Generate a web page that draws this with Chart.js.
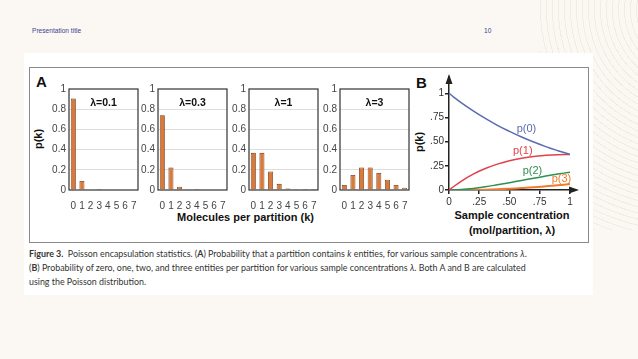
<!DOCTYPE html>
<html>
<head>
<meta charset="utf-8">
<script src="https://cdn.jsdelivr.net/npm/chart.js@4.4.1/dist/chart.umd.min.js"></script>
<style>
body{margin:0;width:638px;height:359px;background:#fbf8f3;position:relative;overflow:hidden;font-family:"Liberation Sans",Arial,sans-serif}
.abs{position:absolute}
#arcs{left:540px;top:0;width:98px;height:230px;background:repeating-radial-gradient(circle at 150px 10px,rgba(255,255,255,0) 0 5px,rgba(225,215,198,0.35) 5px 6px)}
#slideTitle{left:32px;top:27px;font-size:6.6px;color:#3e3f8e}
#pageNo{left:484px;top:27px;font-size:6.6px;color:#3e3f8e}
#sheet{left:24px;top:53px;width:569px;height:242px;background:#fff}
#frame{left:29px;top:67px;width:558px;height:174px;border:1.5px solid #8a8a8a}
.bold{font-weight:bold;color:#111}
.plot{position:absolute}
.cap{position:absolute;left:29px;white-space:nowrap;font-family:Lato,"Open Sans",sans-serif;color:#333}
</style>
</head>
<body>
<div id="arcs" class="abs"></div>
<div id="slideTitle" class="abs">Presentation title</div>
<div id="pageNo" class="abs">10</div>
<div id="sheet" class="abs"></div>
<div id="frame" class="abs"></div>

<div class="abs bold" style="left:36px;top:73px;font-size:15px">A</div>
<div class="abs bold" style="left:416px;top:74px;font-size:15px">B</div>
<div class="abs bold" style="left:28px;top:133px;font-size:11px;transform:rotate(-90deg)">p(k)</div>
<div class="abs bold" style="left:409px;top:136px;font-size:11px;transform:rotate(-90deg)">p(k)</div>
<div class="abs bold" style="left:177px;top:211px;font-size:11px">Molecules per partition (k)</div>
<div class="abs bold" style="left:450px;top:208px;width:124px;text-align:center;font-size:11px;line-height:15px">Sample concentration<br>(mol/partition, λ)</div>

<div class="plot" style="left:39px;top:80px"><canvas id="a1" width="101" height="130"></canvas></div>
<div class="plot" style="left:128px;top:80px"><canvas id="a2" width="101" height="130"></canvas></div>
<div class="plot" style="left:219px;top:80px"><canvas id="a3" width="101" height="130"></canvas></div>
<div class="plot" style="left:310px;top:80px"><canvas id="a4" width="101" height="130"></canvas></div>
<div class="plot" style="left:420px;top:70px"><canvas id="b1" width="162" height="142"></canvas></div>

<div class="cap" id="cap1" style="top:248px"><b>Figure 3.</b>&nbsp; Poisson encapsulation statistics. (<b>A</b>) Probability that a partition contains <i>k</i> entities, for various sample concentrations <i>λ</i>.</div>
<div class="cap" id="cap2" style="top:262px">(<b>B</b>) Probability of zero, one, two, and three entities per partition for various sample concentrations <i>λ</i>. Both A and B are calculated</div>
<div class="cap" id="cap3" style="top:276px">using the Poisson distribution.</div>

<script>
// panel A data
const kLabels = ['0', '1', '2', '3', '4', '5', '6', '7'];
const lambdaTitles = ['λ=0.1', 'λ=0.3', 'λ=1', 'λ=3'];
const pkLambda01 = [0.905, 0.090, 0.005, 0.0002, 0, 0, 0, 0];
const pkLambda03 = [0.741, 0.222, 0.033, 0.003, 0.0003, 0, 0, 0];
const pkLambda1 = [0.368, 0.368, 0.184, 0.061, 0.015, 0.003, 0.0005, 0.0001];
const pkLambda3 = [0.050, 0.149, 0.224, 0.224, 0.168, 0.101, 0.050, 0.022];
const yTicksA = [0, 0.2, 0.4, 0.6, 0.8, 1];

// panel B data
const concentration = [0, 0.1, 0.2, 0.3, 0.4, 0.5, 0.6, 0.7, 0.8, 0.9, 1];
const p0 = [1, 0.905, 0.819, 0.741, 0.670, 0.607, 0.549, 0.497, 0.449, 0.407, 0.368];
const p1 = [0, 0.090, 0.164, 0.222, 0.268, 0.303, 0.329, 0.348, 0.359, 0.366, 0.368];
const p2 = [0, 0.005, 0.016, 0.033, 0.054, 0.076, 0.099, 0.122, 0.144, 0.165, 0.184];
const p3 = [0, 0.0002, 0.001, 0.003, 0.007, 0.013, 0.020, 0.028, 0.038, 0.049, 0.061];
const seriesNames = ['p(0)', 'p(1)', 'p(2)', 'p(3)'];
const ticksB = [0, 0.25, 0.5, 0.75, 1];
const tickLabelsB = ['0', '.25', '.50', '.75', '1'];

const tickFont = {family: '"Liberation Sans", Arial, sans-serif', size: 10};

const boxPlugin = {
    id: 'boxTitle',
    afterDraw(chart, args, opts) {
        const {ctx, chartArea: a} = chart;
        ctx.save();
        ctx.strokeStyle = '#333';
        ctx.lineWidth = 1.2;
        ctx.strokeRect(a.left, a.top, a.right - a.left, a.bottom - a.top);
        ctx.font = 'bold 10.5px "Liberation Sans", Arial, sans-serif';
        ctx.fillStyle = '#111';
        ctx.textAlign = 'center';
        ctx.textBaseline = 'middle';
        ctx.fillText(opts.text, (a.left + a.right) / 2, a.top + 14);
        ctx.restore();
    }
};

const makeBar = (id, values, title) => {
    new Chart(document.getElementById(id), {
        type: 'bar',
        data: {
            labels: kLabels,
            datasets: [{
                data: values,
                backgroundColor: '#d9793a',
                borderColor: '#6b3416',
                borderWidth: 0.8,
                barPercentage: 0.58,
                categoryPercentage: 1
            }]
        },
        options: {
            responsive: false,
            animation: false,
            layout: {padding: {top: 5, right: 2, left: 0, bottom: 0}},
            plugins: {legend: {display: false}, tooltip: {enabled: false}, boxTitle: {text: title}},
            scales: {
                x: {
                    grid: {display: false},
                    border: {display: false},
                    ticks: {color: '#444', font: tickFont, padding: 2, maxRotation: 0, autoSkip: false},
                    afterFit: s => { s.height = 20 }
                },
                y: {
                    min: 0, max: 1,
                    afterBuildTicks: s => { s.ticks = yTicksA.map(v => ({value: v})) },
                    grid: {
                        drawTicks: false,
                        color: c => (c.tick && (c.tick.value === 0 || c.tick.value === 1)) ? 'rgba(0,0,0,0)' : '#dedede'
                    },
                    border: {display: false},
                    ticks: {color: '#444', font: tickFont, padding: 3, callback: v => String(v)},
                    afterFit: s => { s.width = 30 }
                }
            }
        },
        plugins: [boxPlugin]
    });
}

makeBar('a1', pkLambda01, lambdaTitles[0]);
makeBar('a2', pkLambda03, lambdaTitles[1]);
makeBar('a3', pkLambda1, lambdaTitles[2]);
makeBar('a4', pkLambda3, lambdaTitles[3]);

// panel B
const lineColors = ['#5b6bb0', '#e0414b', '#2f8f50', '#f07b2c'];
const labelPos = [[0.64, 0.63], [0.61, 0.40], [0.69, 0.20], [0.93, 0.11]];

const arrowPlugin = {
    id: 'arrows',
    afterDraw(chart) {
        const {ctx, chartArea: a, scales} = chart;
        ctx.save();
        ctx.fillStyle = '#222';
        ctx.beginPath();
        ctx.moveTo(a.left, a.top - 3);
        ctx.lineTo(a.left - 3.5, a.top + 7);
        ctx.lineTo(a.left + 3.5, a.top + 7);
        ctx.closePath();
        ctx.fill();
        ctx.beginPath();
        ctx.moveTo(a.right + 3, a.bottom);
        ctx.lineTo(a.right - 7, a.bottom - 3.5);
        ctx.lineTo(a.right - 7, a.bottom + 3.5);
        ctx.closePath();
        ctx.fill();
        ctx.font = '11px "Liberation Sans", Arial, sans-serif';
        ctx.textAlign = 'center';
        ctx.textBaseline = 'middle';
        seriesNames.forEach((n, i) => {
            ctx.fillStyle = lineColors[i];
            ctx.fillText(n, scales.x.getPixelForValue(labelPos[i][0]), scales.y.getPixelForValue(labelPos[i][1]));
        });
        ctx.restore();
    }
};

const toPoints = arr => concentration.map((c, i) => ({x: c, y: arr[i]}));

new Chart(document.getElementById('b1'), {
    type: 'line',
    data: {
        datasets: [p0, p1, p2, p3].map((arr, i) => ({
            data: toPoints(arr),
            borderColor: lineColors[i],
            borderWidth: i === 3 ? 2 : 1.5,
            pointRadius: 0,
            tension: 0.4,
            fill: false
        }))
    },
    options: {
        responsive: false,
        animation: false,
        layout: {padding: {top: 5, right: 6, left: 0, bottom: 0}},
        plugins: {legend: {display: false}, tooltip: {enabled: false}},
        scales: {
            x: {
                type: 'linear', min: 0, max: 1.05,
                afterBuildTicks: s => { s.ticks = ticksB.map(v => ({value: v})) },
                grid: {drawOnChartArea: false, drawTicks: true, tickLength: 4, color: '#222', lineWidth: 1.5},
                border: {display: true, color: '#222', width: 1.5},
                ticks: {color: '#333', font: tickFont, padding: 2, maxRotation: 0, callback: (v, i) => tickLabelsB[i]},
                afterFit: s => { s.height = 22 }
            },
            y: {
                min: 0, max: 1.17,
                afterBuildTicks: s => { s.ticks = ticksB.map(v => ({value: v})) },
                grid: {drawOnChartArea: false, drawTicks: true, tickLength: 4, color: '#222', lineWidth: 1.5},
                border: {display: true, color: '#222', width: 1.5},
                ticks: {color: '#333', font: tickFont, padding: 1, callback: (v, i) => tickLabelsB[i]},
                afterFit: s => { s.width = 29 }
            }
        }
    },
    plugins: [arrowPlugin]
});

// fit the caption to the width of the figure
const cap1 = document.getElementById('cap1');
const w = cap1.getBoundingClientRect().width;
const fs = 16 * 498 / w;
document.querySelectorAll('.cap').forEach(el => { el.style.fontSize = fs + 'px' });
</script>
</body>
</html>
